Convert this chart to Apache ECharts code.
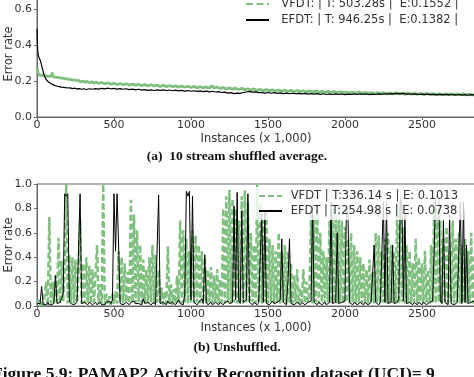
<!DOCTYPE html>
<html>
<head>
<meta charset="utf-8">
<script src="https://cdn.jsdelivr.net/npm/echarts@6/dist/echarts.min.js"></script>
<style>
html,body{margin:0;padding:0;background:#fff;}
#c{width:474px;height:377px;}
</style>
</head>
<body>
<div id="c"></div>
<script>
// ---------- data ----------
const xTicks = [0, 500, 1000, 1500, 2000, 2500];
const xMax = 2845;
const nameVfdtA = 'VFDT: | T: 503.28s |  E:0.1552 |';
const nameEfdtA = 'EFDT: | T: 946.25s |  E:0.1382 |';
const nameVfdtB = 'VFDT | T:336.14 s | E: 0.1013';
const nameEfdtB = 'EFDT | T:254.98 s | E: 0.0738';

// (a) shuffled average: [instances (x1000), error rate]
const vfdtShuffled = [[0,0.275],[3,0.262],[6,0.248],[10,0.238],[15,0.232],[20,0.236],[26,0.228],[32,0.233],[38,0.226],[45,0.231],[52,0.224],[60,0.229],[68,0.221],[76,0.227],[84,0.219],[92,0.225],[98,0.247],[102,0.252],[106,0.223],[114,0.216],[122,0.221],[132,0.213],[142,0.219],[152,0.21],[162,0.216],[172,0.207],[182,0.213],[192,0.204],[202,0.21],[212,0.201],[224,0.207],[236,0.198],[248,0.205],[260,0.197],[272,0.202],[285,0.194],[298,0.2],[312,0.192],[326,0.198],[340,0.19],[355,0.196],[370,0.188],[385,0.194],[400,0.186],[420,0.192],[440,0.185],[460,0.19],[480,0.182],[500,0.188],[520,0.18],[540,0.186],[560,0.179],[580,0.185],[600,0.177],[620,0.183],[640,0.176],[660,0.182],[680,0.174],[700,0.18],[720,0.173],[740,0.179],[760,0.172],[780,0.178],[800,0.17],[820,0.176],[840,0.169],[860,0.175],[880,0.168],[900,0.173],[920,0.166],[940,0.172],[960,0.165],[980,0.171],[1000,0.164],[1020,0.17],[1040,0.162],[1060,0.168],[1080,0.161],[1100,0.167],[1120,0.16],[1135,0.174],[1150,0.161],[1170,0.166],[1190,0.158],[1210,0.164],[1230,0.156],[1250,0.162],[1270,0.155],[1290,0.16],[1310,0.153],[1330,0.159],[1350,0.151],[1370,0.157],[1390,0.15],[1410,0.156],[1430,0.148],[1450,0.154],[1470,0.147],[1490,0.152],[1510,0.145],[1530,0.151],[1550,0.144],[1570,0.15],[1590,0.143],[1610,0.149],[1630,0.142],[1650,0.148],[1670,0.141],[1690,0.147],[1710,0.14],[1730,0.146],[1750,0.139],[1770,0.145],[1790,0.138],[1810,0.144],[1830,0.137],[1850,0.143],[1870,0.137],[1890,0.142],[1910,0.136],[1930,0.141],[1950,0.135],[1970,0.14],[1990,0.134],[2010,0.139],[2030,0.133],[2050,0.139],[2070,0.132],[2090,0.138],[2110,0.132],[2130,0.137],[2150,0.131],[2170,0.136],[2190,0.13],[2210,0.136],[2230,0.13],[2250,0.135],[2270,0.129],[2290,0.134],[2310,0.128],[2330,0.134],[2350,0.128],[2370,0.133],[2390,0.127],[2410,0.132],[2430,0.127],[2450,0.132],[2470,0.126],[2490,0.131],[2510,0.126],[2530,0.131],[2550,0.125],[2570,0.13],[2590,0.125],[2610,0.13],[2630,0.124],[2650,0.129],[2670,0.124],[2690,0.129],[2710,0.124],[2730,0.128],[2750,0.123],[2770,0.128],[2790,0.123],[2810,0.127],[2830,0.122],[2845,0.126]];

const efdtShuffled = [[0,0.49],[2,0.43],[4,0.375],[7,0.35],[10,0.338],[13,0.33],[16,0.325],[19,0.318],[22,0.312],[25,0.305],[28,0.295],[31,0.283],[34,0.272],[37,0.262],[40,0.252],[44,0.24],[48,0.229],[52,0.22],[57,0.212],[63,0.204],[70,0.198],[77,0.193],[85,0.189],[93,0.185],[101,0.18],[110,0.177],[120,0.175],[132,0.171],[145,0.169],[158,0.166],[172,0.165],[186,0.163],[200,0.161],[215,0.162],[230,0.158],[245,0.16],[260,0.156],[275,0.158],[290,0.154],[305,0.157],[320,0.153],[340,0.157],[360,0.154],[380,0.158],[400,0.155],[420,0.159],[440,0.156],[460,0.16],[480,0.157],[500,0.159],[520,0.155],[540,0.158],[560,0.154],[580,0.157],[600,0.152],[620,0.155],[640,0.151],[660,0.154],[680,0.149],[700,0.152],[720,0.148],[740,0.151],[760,0.147],[780,0.151],[800,0.148],[820,0.151],[840,0.147],[860,0.15],[880,0.146],[900,0.149],[920,0.145],[940,0.148],[960,0.144],[980,0.147],[1000,0.143],[1020,0.146],[1040,0.142],[1060,0.145],[1080,0.141],[1100,0.144],[1120,0.14],[1140,0.143],[1160,0.139],[1180,0.141],[1200,0.136],[1220,0.138],[1240,0.133],[1260,0.135],[1280,0.13],[1300,0.133],[1320,0.131],[1340,0.136],[1360,0.139],[1380,0.142],[1400,0.138],[1420,0.14],[1440,0.135],[1460,0.137],[1480,0.133],[1500,0.136],[1520,0.132],[1540,0.135],[1560,0.131],[1580,0.134],[1600,0.13],[1620,0.133],[1640,0.129],[1660,0.132],[1680,0.129],[1700,0.131],[1720,0.128],[1740,0.131],[1760,0.127],[1780,0.13],[1800,0.127],[1820,0.13],[1840,0.126],[1860,0.129],[1880,0.125],[1900,0.128],[1920,0.125],[1940,0.128],[1960,0.125],[1980,0.128],[2000,0.124],[2020,0.127],[2040,0.125],[2060,0.128],[2080,0.125],[2100,0.128],[2120,0.125],[2140,0.128],[2160,0.124],[2180,0.127],[2200,0.125],[2220,0.128],[2240,0.126],[2260,0.129],[2280,0.127],[2300,0.13],[2320,0.128],[2340,0.131],[2360,0.129],[2380,0.131],[2400,0.127],[2420,0.129],[2440,0.126],[2460,0.128],[2480,0.125],[2500,0.127],[2520,0.124],[2540,0.127],[2560,0.124],[2580,0.126],[2600,0.123],[2620,0.126],[2640,0.123],[2660,0.126],[2680,0.123],[2700,0.125],[2720,0.122],[2740,0.125],[2760,0.122],[2780,0.124],[2800,0.121],[2820,0.124],[2845,0.122]];

// (b) unshuffled: one value every 10 (x1000) instances, starting at 0
const unshuffledStep = 10;
const vfdtUnshuffled = [
0.02,0.05,0.0,0.04,0.0,0.1,0.2,0.0,0.73,0.02,
0.2,0.02,0.25,0.03,0.56,0.02,0.37,0.04,0.3,1.0,
0.02,0.42,0.03,0.4,0.02,0.38,0.03,0.3,0.71,0.02,
0.35,0.02,0.4,0.03,0.33,0.02,0.3,0.03,0.25,0.5,
0.02,0.18,0.02,1.0,0.01,0.1,0.02,0.08,0.01,0.1,
0.02,0.12,0.02,0.45,0.03,0.4,0.02,0.35,0.03,0.28,
0.02,0.87,0.03,0.75,0.02,0.62,0.03,0.5,0.02,0.38,
0.03,0.3,0.02,0.4,0.03,0.5,0.02,0.42,0.03,0.3,
0.02,0.15,0.01,0.12,0.02,0.49,0.02,0.18,0.01,0.14,
0.02,0.25,0.03,0.7,0.02,0.62,0.03,0.55,0.02,0.45,
0.03,0.62,0.02,0.58,0.03,0.5,0.02,0.45,0.03,0.4,
0.02,0.3,0.03,0.32,0.02,0.25,0.03,0.3,0.02,0.22,
0.03,0.8,0.02,0.9,0.03,0.95,0.02,0.88,0.03,0.8,
0.02,0.7,0.03,0.9,0.02,0.95,0.03,0.85,0.02,0.6,
0.03,0.5,0.02,1.0,0.03,0.85,0.02,0.7,0.03,0.8,
0.02,0.55,0.03,0.5,0.02,0.45,0.03,0.6,0.02,0.45,
0.03,0.5,0.02,0.45,0.03,0.35,0.02,0.25,0.03,0.3,
0.02,0.15,0.03,0.3,0.02,0.2,0.03,0.12,0.8,0.02,
0.75,0.03,0.8,0.02,0.6,0.03,0.45,0.02,0.4,0.03,
0.7,0.02,0.8,0.03,0.75,0.02,0.8,0.03,0.7,0.02,
0.65,0.03,0.55,0.02,0.6,0.03,0.5,0.02,0.45,0.03,
0.4,0.02,0.35,0.03,0.3,0.02,0.38,0.03,0.28,0.02,
0.6,0.03,0.58,0.02,0.45,0.03,0.55,0.02,0.6,0.03,
0.5,0.02,0.45,0.03,0.85,0.02,0.85,0.03,0.65,0.02,
0.5,0.03,0.45,0.02,0.35,0.03,0.55,0.02,0.4,0.03,
0.35,0.02,0.45,0.03,0.3,0.02,0.5,0.03,0.85,0.02,
0.8,0.03,0.7,0.02,0.55,0.03,0.65,0.02,0.45,0.03,
0.7,0.02,0.55,0.03,0.6,0.02,0.5,0.03,0.55,0.02,
0.45,0.03,0.6,0.02,0.4];
const efdtUnshuffled = [
0.02,0.01,0.02,0.16,0.01,0.02,0.01,0.03,0.01,0.02,
0.01,0.03,0.25,0.02,0.01,0.03,0.02,0.1,0.92,0.9,
0.92,0.04,0.02,0.03,0.01,0.02,0.03,0.02,0.92,0.02,
0.01,0.03,0.02,0.01,0.03,0.02,0.01,0.02,0.03,0.01,
0.02,0.03,0.01,0.02,0.01,0.03,0.02,0.04,0.02,0.05,
0.92,0.45,0.92,0.5,0.02,0.03,0.01,0.02,0.03,0.02,
0.01,0.03,0.02,0.04,0.02,0.01,0.02,0.03,0.01,0.06,
0.02,0.01,0.03,0.02,0.01,0.02,0.03,0.01,0.02,0.91,
0.02,0.01,0.03,0.02,0.01,0.04,0.02,0.01,0.03,0.02,
0.01,0.02,0.05,0.02,0.03,0.01,0.1,0.94,0.9,0.94,
0.05,0.9,0.03,0.02,0.01,0.03,0.02,0.06,0.02,0.42,
0.03,0.01,0.02,0.03,0.01,0.02,0.03,0.02,0.01,0.03,
0.02,0.01,0.03,0.02,0.04,0.02,0.01,0.03,0.82,0.05,
0.93,0.04,0.02,0.78,0.03,0.02,0.05,0.92,0.03,0.02,
0.01,0.03,0.02,0.01,0.03,0.02,0.76,0.03,0.77,0.02,
0.03,0.01,0.02,0.04,0.02,0.01,0.03,0.02,0.05,0.55,
0.03,0.02,0.01,0.2,0.55,0.02,0.03,0.01,0.02,0.03,
0.02,0.01,0.03,0.02,0.01,0.02,0.03,0.02,0.04,0.82,
0.03,0.02,0.01,0.03,0.02,0.01,0.02,0.03,0.01,0.02,
0.03,0.85,0.02,0.01,0.03,0.6,0.02,0.01,0.03,0.02,
0.04,0.82,0.75,0.03,0.02,0.01,0.03,0.02,0.01,0.02,
0.03,0.02,0.01,0.03,0.02,0.01,0.02,0.03,0.02,0.5,
0.03,0.02,0.01,0.03,0.02,0.85,0.03,0.85,0.02,0.01,
0.03,0.5,0.02,0.01,0.03,0.06,0.88,0.85,0.04,0.75,
0.02,0.01,0.03,0.02,0.01,0.03,0.02,0.01,0.03,0.02,
0.01,0.03,0.02,0.01,0.02,0.03,0.02,0.04,0.05,0.9,
0.9,0.88,0.04,0.02,0.7,0.03,0.02,0.01,0.75,0.02,
0.03,0.01,0.02,0.03,0.02,0.85,0.02,0.85,0.03,0.5,
0.02,0.01,0.03,0.02,0.04];

// ---------- chart ----------
const GREEN = '#7fbf7f';
const TXT = '#333';
const AX = '#666';
const FONT = 'DejaVu Sans';
const toPairs = arr => arr.map((v, i) => [i * unshuffledStep, v]);

const chart = echarts.init(document.getElementById('c'), null, {renderer: 'canvas'});

function xAxisCfg(gi) {
  return {
    gridIndex: gi, type: 'value', min: 0, max: xMax, interval: 500,
    name: 'Instances (x 1,000)', nameLocation: 'middle', nameGap: 16, nameMoveOverlap: false,
    nameTextStyle: {fontFamily: FONT, fontSize: 11.5, color: TXT},
    axisLine: {show: true, lineStyle: {color: AX, width: 1}},
    axisTick: {show: true, length: 3, lineStyle: {color: AX}},
    axisLabel: {fontFamily: FONT, fontSize: 11, color: TXT, margin: 3, showMaxLabel: false,
      formatter: v => xTicks.includes(v) ? String(v) : ''},
    splitLine: {show: false}
  };
}
function yAxisCfg(gi, max) {
  return {
    gridIndex: gi, type: 'value', min: 0, max: max, interval: 0.2,
    name: 'Error rate', nameLocation: 'middle', nameGap: 22, nameMoveOverlap: false,
    nameTextStyle: {fontFamily: FONT, fontSize: 11.5, color: TXT},
    axisLine: {show: true, lineStyle: {color: AX, width: 1}},
    axisTick: {show: true, length: 3, lineStyle: {color: AX}},
    axisLabel: {fontFamily: FONT, fontSize: 11, color: TXT, margin: 5,
      formatter: v => (Math.abs(v / 0.2 - Math.round(v / 0.2)) < 1e-6) ? v.toFixed(1) : ''},
    splitLine: {show: false}
  };
}

const legendCommon = {
  orient: 'vertical', itemWidth: 23, itemHeight: 12,
  textStyle: {fontFamily: FONT, fontSize: 11.5, color: TXT},
  itemStyle: {color: 'rgba(0,0,0,0)', borderColor: 'rgba(0,0,0,0)', borderWidth: 0},
  backgroundColor: 'rgba(255,255,255,0.8)', borderWidth: 0
};

chart.setOption({
  animation: false,
  backgroundColor: '#fff',
  grid: [
    {left: 37, right: -1, top: -9, bottom: 260, show: true, borderColor: AX, borderWidth: 1,
      containLabel: false, outerBoundsMode: 'none'},
    {left: 37, right: -1, top: 184, bottom: 71, show: true, borderColor: AX, borderWidth: 1,
      containLabel: false, outerBoundsMode: 'none'}
  ],
  xAxis: [xAxisCfg(0), xAxisCfg(1)],
  yAxis: [yAxisCfg(0, 0.7), yAxisCfg(1, 1.0)],
  legend: [
    Object.assign({}, legendCommon, {
      left: 243, top: -4, itemGap: 4, padding: [2, 4, 2, 2],
      formatter: n => '  ' + n,
      data: [{name: nameVfdtA, lineStyle: {type: [7, 3.5], width: 2}}, {name: nameEfdtA}]
    }),
    Object.assign({}, legendCommon, {
      left: 253, top: 187, itemGap: 3, padding: [3, 6, 3, 5],
      formatter: n => ' ' + n,
      data: [{name: nameVfdtB}, {name: nameEfdtB}]
    })
  ],
  series: [
    {name: nameVfdtA, type: 'line', xAxisIndex: 0, yAxisIndex: 0, data: vfdtShuffled,
      symbol: 'none', lineStyle: {color: GREEN, width: 2.8}, itemStyle: {color: GREEN}},
    {name: nameEfdtA, type: 'line', xAxisIndex: 0, yAxisIndex: 0, data: efdtShuffled,
      symbol: 'none', lineStyle: {color: '#000', width: 1.2}, itemStyle: {color: '#000'}},
    {name: nameVfdtB, type: 'line', xAxisIndex: 1, yAxisIndex: 1, data: toPairs(vfdtUnshuffled),
      symbol: 'none', lineStyle: {color: GREEN, width: 2.5, type: [6, 3]}, itemStyle: {color: GREEN}},
    {name: nameEfdtB, type: 'line', xAxisIndex: 1, yAxisIndex: 1, data: toPairs(efdtUnshuffled),
      symbol: 'none', lineStyle: {color: '#000', width: 1}, itemStyle: {color: '#000'}}
  ],
  graphic: [
    {type: 'text', left: 'center', top: 150, style: {text: '(a)  10 stream shuffled average.',
      font: 'bold 13.5px "Liberation Serif", serif', fill: '#111'}},
    {type: 'text', left: 'center', top: 341, style: {text: '(b) Unshuffled.',
      font: 'bold 13.5px "Liberation Serif", serif', fill: '#111'}},
    {type: 'text', left: -8, top: 365, style: {text: 'Figure 5.9: PAMAP2 Activity Recognition dataset (UCI)= 9',
      font: 'bold 17.5px "Liberation Serif", serif', fill: '#111'}}
  ]
});
</script>
</body>
</html>
